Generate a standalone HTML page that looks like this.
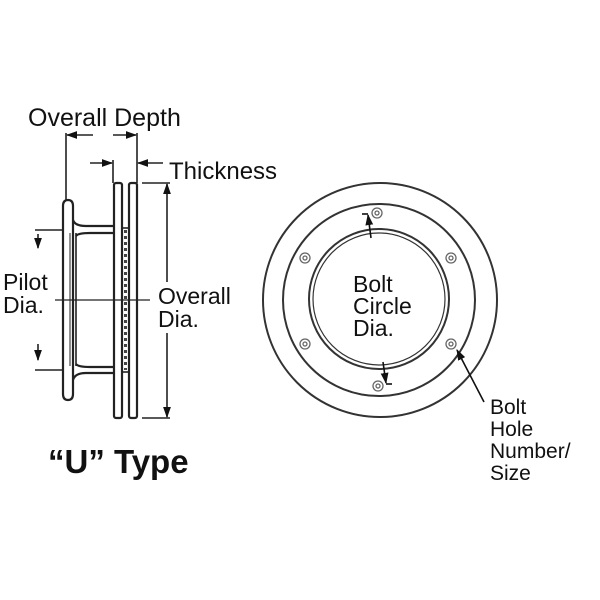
<!DOCTYPE html>
<html><head><style>
html,body{margin:0;padding:0;background:#fff;}
svg{display:block;}
text{font-family:"Liberation Sans",Arial,sans-serif;fill:#111;}
</style></head><body>
<svg width="600" height="600" viewBox="0 0 600 600" xmlns="http://www.w3.org/2000/svg">
<defs>
<marker id="a" viewBox="0 0 10 10" refX="9" refY="5" markerWidth="7" markerHeight="7" orient="auto-start-reverse"><path d="M0,1.5 L10,5 L0,8.5 z" fill="#111"/></marker>
</defs>
<g stroke="#222" fill="none" stroke-width="1.6">
<line x1="66" y1="133" x2="66" y2="200"/>
<line x1="137" y1="133" x2="137" y2="183"/>
<line x1="93" y1="135" x2="67" y2="135" marker-end="url(#a)"/>
<line x1="113" y1="135" x2="136" y2="135" marker-end="url(#a)"/>
<line x1="113" y1="160" x2="113" y2="183"/>
<line x1="90" y1="163" x2="112" y2="163" marker-end="url(#a)"/>
<line x1="163" y1="163" x2="138" y2="163" marker-end="url(#a)"/>
<line x1="142" y1="183" x2="170" y2="183"/>
<line x1="142" y1="418" x2="170" y2="418"/>
<line x1="167" y1="282" x2="167" y2="184" marker-end="url(#a)"/>
<line x1="167" y1="333" x2="167" y2="417" marker-end="url(#a)"/>
<line x1="35" y1="230" x2="62" y2="230"/>
<line x1="35" y1="370" x2="62" y2="370"/>
<line x1="38" y1="234" x2="38" y2="248" marker-end="url(#a)"/>
<line x1="38" y1="344" x2="38" y2="360" marker-end="url(#a)"/>
<line x1="55" y1="300" x2="150" y2="300" stroke-width="1.2"/>
<path d="M63,206 Q63,200 68,200 Q73,200 73,206 L73,394 Q73,400 68,400 Q63,400 63,394 Z" stroke-width="2.2"/>
<line x1="76" y1="233" x2="76" y2="366"/>
<line x1="70" y1="233" x2="70" y2="366" stroke-width="1"/>
<path d="M73,220 Q75,226 86,226 L115,226" stroke-width="2.2"/>
<path d="M76,236 Q78,233 90,233 L115,233" stroke-width="2.2"/>
<path d="M73,380 Q75,373 86,373 L115,373" stroke-width="2.2"/>
<path d="M76,364 Q78,367 90,367 L115,367" stroke-width="2.2"/>
<rect x="114" y="183" width="8" height="235" rx="2" stroke-width="2.2"/>
<rect x="129" y="183" width="8" height="235" rx="2" stroke-width="2.2"/>
<line x1="122" y1="228" x2="129" y2="228"/>
<line x1="122" y1="372" x2="129" y2="372"/>
</g>
<g fill="none" stroke="#444" stroke-width="1">
<line x1="125.5" y1="230" x2="125.5" y2="370" stroke-dasharray="3 3" stroke-width="3"/>
</g>
<g stroke="#333" fill="none" stroke-width="2">
<circle cx="380" cy="300" r="117"/>
<circle cx="379" cy="300" r="96"/>
<circle cx="379" cy="299" r="70"/>
<circle cx="379" cy="299" r="66" stroke-width="1.2"/>
</g>
<g stroke="#666" fill="none" stroke-width="1.3">
<circle cx="377" cy="213" r="5"/><circle cx="377" cy="213" r="2"/>
<circle cx="305" cy="258" r="5"/><circle cx="305" cy="258" r="2"/>
<circle cx="451" cy="258" r="5"/><circle cx="451" cy="258" r="2"/>
<circle cx="305" cy="344" r="5"/><circle cx="305" cy="344" r="2"/>
<circle cx="451" cy="344" r="5"/><circle cx="451" cy="344" r="2"/>
<circle cx="378" cy="386" r="5"/><circle cx="378" cy="386" r="2"/>
</g>
<g stroke="#111" fill="none" stroke-width="1.6">
<path d="M362,214 L368,214"/>
<line x1="371" y1="238" x2="368" y2="215" marker-end="url(#a)"/>
<path d="M386,384 L392,384"/>
<line x1="383" y1="362" x2="386" y2="383" marker-end="url(#a)"/>
<line x1="484" y1="402" x2="457" y2="350" marker-end="url(#a)"/>
</g>
<text x="28" y="126" font-size="25">Overall Depth</text>
<text x="169" y="179" font-size="24">Thickness</text>
<text x="3" y="290" font-size="23">Pilot</text>
<text x="3" y="313" font-size="23">Dia.</text>
<text x="158" y="304" font-size="23">Overall</text>
<text x="158" y="327" font-size="23">Dia.</text>
<text x="48" y="473" font-size="33" font-weight="bold">“U” Type</text>
<text x="353" y="292" font-size="23">Bolt</text>
<text x="353" y="314" font-size="23">Circle</text>
<text x="353" y="336" font-size="23">Dia.</text>
<text x="490" y="414" font-size="21">Bolt</text>
<text x="490" y="436" font-size="21">Hole</text>
<text x="490" y="458" font-size="21">Number/</text>
<text x="490" y="480" font-size="21">Size</text>
</svg>
</body></html>
